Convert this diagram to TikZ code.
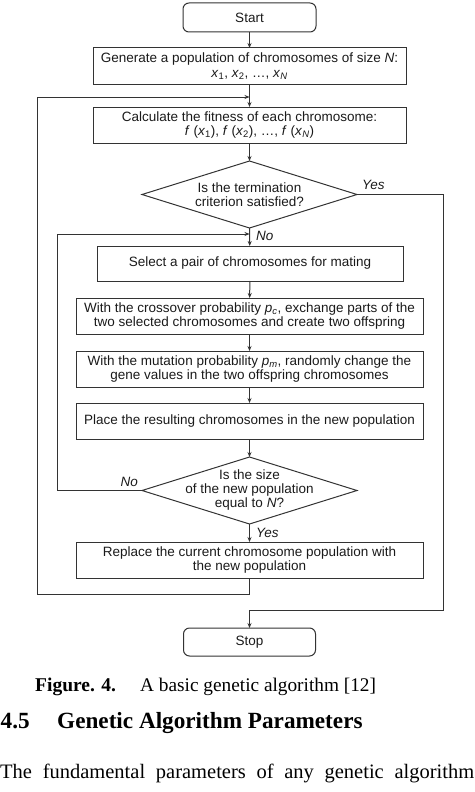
\documentclass[tikz,border=0pt]{standalone}
\usepackage{fontspec}
\setmainfont{Liberation Serif}
\setsansfont{Liberation Sans}
\usetikzlibrary{arrows.meta}
\definecolor{linec}{HTML}{333333}
\definecolor{textc}{HTML}{1A1A1A}
\begin{document}
\begin{tikzpicture}[x=1pt,y=-1pt,
  proc/.style={draw=linec, line width=1pt, inner sep=0pt, outer sep=0pt, align=center,
    font=\sffamily\fontsize{13.5}{14.5}\selectfont, text=textc},
  term/.style={proc, rounded corners=6pt},
  dtext/.style={inner sep=0pt, align=center, font=\sffamily\fontsize{13.5}{14}\selectfont, text=textc},
  lab/.style={inner sep=0pt, font=\sffamily\itshape\fontsize{13.5}{14}\selectfont, text=textc},
  conn/.style={draw=linec, line width=1pt},
  arr/.style={conn, -{Stealth[length=5pt,width=4pt]}},
  ser/.style={inner sep=0pt, anchor=base west, text=black}
]
\useasboundingbox (0,0) rectangle (474,792);

% nodes
\node[term, minimum width=133pt, minimum height=29pt] (start) at (249.5,17.5) {Start};
\node[proc, minimum width=313pt, minimum height=36pt] (gen) at (249.5,66)
  {Generate a population of chromosomes of size \textit{N}:\\
   \textit{x}\textsubscript{1}, \textit{x}\textsubscript{2}, \ldots, \textit{x}\textsubscript{\textit{N}}};
\node[proc, minimum width=313pt, minimum height=36pt] (calc) at (249.5,125)
  {Calculate the fitness of each chromosome:\\
   \textit{f} (\textit{x}\textsubscript{1}), \textit{f} (\textit{x}\textsubscript{2}), \ldots, \textit{f} (\textit{x}\textsubscript{\textit{N}})};

% decision 1
\coordinate (d1) at (249.5,194.5);
\coordinate (d1n) at (249.5,161);
\coordinate (d1s) at (249.5,228);
\coordinate (d1e) at (357,194.5);
\coordinate (d1w) at (142,194.5);
\draw[conn] (d1n) -- (d1e) -- (d1s) -- (d1w) -- cycle;
\node[dtext] (d1t) at (d1) {Is the termination\\criterion satisfied?};

\node[proc, minimum width=306pt, minimum height=35pt] (sel) at (250,263.5) {Select a pair of chromosomes for mating};
\node[proc, minimum width=347pt, minimum height=36pt] (cross) at (249.5,316)
  {With the crossover probability \textit{p}\textsubscript{\textit{c}}, exchange parts of the\\
   two selected chromosomes and create two offspring};
\node[proc, minimum width=347pt, minimum height=36pt] (mut) at (249.5,369)
  {With the mutation probability \textit{p}\textsubscript{\textit{m}}, randomly change the\\
   gene values in the two offspring chromosomes};
\node[proc, minimum width=347pt, minimum height=36pt] (place) at (249.5,421)
  {Place the resulting chromosomes in the new population};

% decision 2
\coordinate (d2) at (249.5,490.5);
\coordinate (d2n) at (249.5,457);
\coordinate (d2s) at (249.5,524);
\coordinate (d2e) at (357,490.5);
\coordinate (d2w) at (142,490.5);
\draw[conn] (d2n) -- (d2e) -- (d2s) -- (d2w) -- cycle;
\node[dtext] (d2t) at (d2) {Is the size\\of the new population\\equal to \textit{N}?};

\node[proc, minimum width=347pt, minimum height=36pt] (repl) at (249.5,560)
  {Replace the current chromosome population with\\the new population};
\node[term, minimum width=132pt, minimum height=28pt] (stop) at (249.5,642) {Stop};

% labels
\node[lab, anchor=west] (yes1) at (362,185) {Yes};
\node[lab, anchor=west] (no1) at (256,236) {No};
\node[lab, anchor=east] (no2) at (138,482) {No};
\node[lab, anchor=west] (yes2) at (256,533) {Yes};

% helper coordinates
\coordinate (j0) at (249.5,97);
\coordinate (j1) at (249.5,234);
\coordinate (rb) at (37,594);
\coordinate (noL) at (57,234);
\coordinate (yesR) at (443,610);

% connectors
\draw[arr] (start) -- (gen);
\draw[arr] (gen) -- (calc);
\draw[arr] (calc) -- (d1n);
\draw[arr] (d1s) -- (sel);
\draw[arr] (sel) -- (cross);
\draw[arr] (cross) -- (mut);
\draw[arr] (mut) -- (place);
\draw[arr] (place) -- (d2n);
\draw[arr] (d2s) -- (repl);
\draw[arr] (d1e) -| (yesR) -| (stop);
\draw[arr] (d2w) -| (noL) -- (j1);
\draw[arr] (repl.south) |- (rb) |- (j0);

% caption and text
\node[ser, font=\bfseries\fontsize{19.5}{22}\selectfont] (figlab) at (35,691) {Figure. 4.};
\node[ser, font=\fontsize{19.3}{22}\selectfont] (figcap) at (140,691) {A basic genetic algorithm [12]};
\node[ser, font=\bfseries\fontsize{23.2}{26}\selectfont] (secnum) at (0.5,728) {4.5};
\node[ser, font=\bfseries\fontsize{23.2}{26}\selectfont] (sectitle) at (57,728) {Genetic Algorithm Parameters};
\node[ser, font=\fontsize{20.5}{24}\selectfont] (body) at (0,778)
  {\makebox[474pt][s]{The fundamental parameters of any genetic algorithm}};
\end{tikzpicture}
\end{document}
